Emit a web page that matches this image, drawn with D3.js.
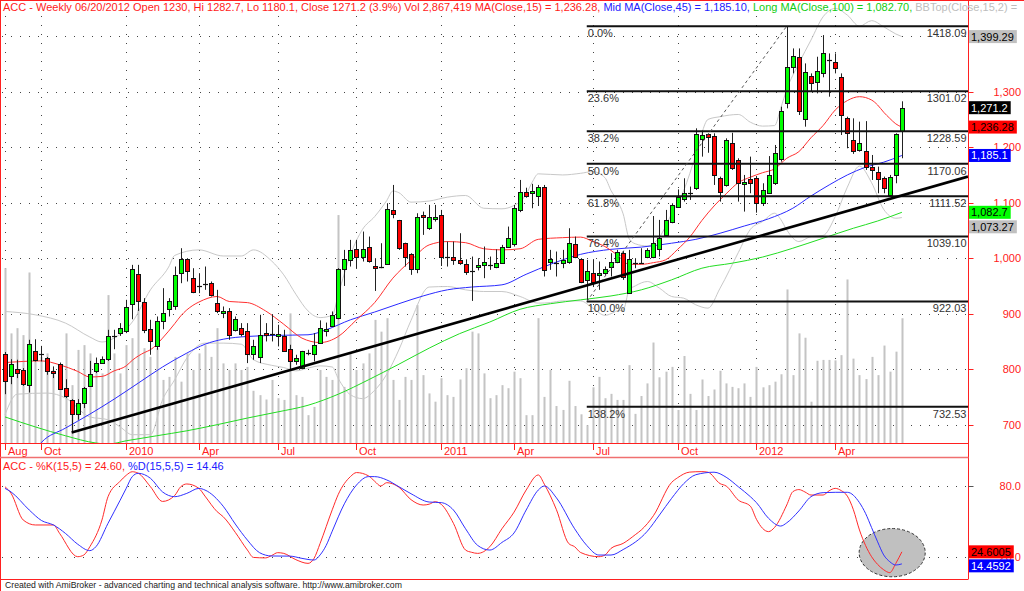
<!DOCTYPE html>
<html><head><meta charset="utf-8">
<script src="https://cdn.jsdelivr.net/npm/d3@7"></script>
<style>
html,body{margin:0;padding:0;background:#fff;}
svg{display:block;font-family:"Liberation Sans",Arial,sans-serif;}
</style></head><body>
<svg id="c" width="1024" height="591"></svg>
<script>
// ---------------- DATA ----------------
const symbol = "ACC";
const lastDate = "06/20/2012";
const tickIdx = [0,6,20,32,45,58,72,84,97,111,124,137];
const tickLabels = ["Aug","Oct","2010","Apr","Jul","Oct","2011","Apr","Jul","Oct","2012","Apr"];

const open = [827,787,800,799,771,832,827,821,796,809,767,745,720,740,770,796,812,818,858,865,
869,918,971,921,872,841,886,908,914,973,998,964,950,953,956,920,902,904,871,874,
869,827,822,865,864,860,859,836,815,802,829,827,848,868,877,892,980,997,1016,1003,
1020,986,984,989,1086,1069,1027,1007,980,1078,1054,1070,1078,1003,1003,997,989,976,985,988,
987,985,992,1021,1026,1087,1120,1118,1112,1129,993,991,991,994,1025,998,961,973,969,973,
984,994,1009,937,991,992,1003,1003,1016,1042,1066,1093,1106,1118,1126,1214,1224,1220,1144,1131,
1208,1177,1133,1142,1144,1099,1118,1135,1178,1279,1344,1362,1250,1328,1318,1334,1358,1354,1327,1252,
1213,1195,1193,1165,1156,1144,1114,1150,1230];
const high = [831,818,817,802,853,854,842,822,805,812,782,746,746,768,815,821,823,871,871,883,
925,988,988,928,889,895,946,928,985,1018,1000,982,973,985,958,943,913,910,895,883,
883,853,898,883,898,880,871,844,826,833,835,865,888,884,904,982,1015,1033,1033,1048,
1039,1000,1027,1099,1132,1069,1028,1009,1081,1084,1096,1096,1087,1030,1030,1045,998,1003,1000,1021,
1003,1016,1024,1057,1096,1141,1127,1134,1132,1132,1015,1012,1015,1054,1039,1000,997,997,994,985,
1009,1015,1013,1015,1000,1018,1018,1076,1069,1087,1099,1124,1144,1129,1234,1230,1225,1225,1147,1216,
1226,1180,1150,1183,1148,1135,1184,1204,1273,1418.09,1378,1378,1351,1333,1363,1402,1369,1369,1333,1255,
1252,1246,1247,1186,1165,1147,1150,1225,1282.7];
const low = [755,773,784,770,758,814,814,790,784,763,748,686,709,730,768,793,811,815,836,860,
865,890,905,865,826,835,872,895,907,955,958,937,937,943,931,901,892,853,868,859,
811,817,811,850,850,841,832,799,808,800,825,814,847,859,877,890,950,985,982,994,
992,941,982,988,1072,1015,985,970,973,1042,1051,1066,986,985,988,988,970,923,978,964,
979,982,990,1020,1021,1083,1109,1090,1094,967,979,967,982,990,1000,955,922.03,948,943,970,
967,991,961,937,982,991,1000,1000,1003,1040,1063,1092,1102,1105,1123,1183,1190,1132,1102,1129,
1159,1102,1084,1117,1082,1094,1116,1132,1174,1270,1333,1258,1237,1300,1297,1326,1291,1333,1222,1198,
1188,1192,1159,1141,1117,1117,1112,1135,1180.1];
const close = [778,809,793,773,845,817,826,796,793,764,752,720,740,766,791,812,818,860,860,874,
912,980,923,871,850,887,902,923,970,998,977,940,949,952,934,904,905,862,891,864,
827,841,862,862,863,864,833,814,821,833,830,844,874,872,898,981,998,1015,1003,1017,
995,983,985,1088,1080,1018,1002,980,1074,1074,1074,1075,1002,1002,996,992,975,977,987,994,
988,992,1020,1037,1090,1120,1112,1121,1128,978,999,990,997,1028,1003,958,977,957,974,980,
994,1011,966,998,992,991,1015,1028,1036,1069,1096,1110,1118,1118,1224,1222,1218,1150,1120,1213,
1162,1135,1138,1135,1099,1123,1150,1190,1266,1344,1364,1266,1336,1316,1338,1370,1357,1342,1258,1225,
1194,1207,1165,1159,1142,1126,1147,1223.5,1271.2];
// volume in millions of shares
const volume = [4.02,2.52,2.64,2.48,3.92,1.98,1.98,2.06,1.68,1.60,2.52,1.33,2.14,2.25,2.06,1.68,1.60,3.40,2.06,1.60,
2.25,2.41,3.06,2.18,1.98,2.18,1.45,1.52,1.98,1.41,2.06,1.68,2.06,2.25,1.98,2.64,1.83,1.68,1.83,1.68,
1.75,1.20,1.10,1.00,1.45,1.03,0.99,2.98,1.10,1.06,0.64,0.83,1.68,1.52,1.45,5.24,1.29,2.06,1.68,1.83,
2.06,2.83,2.56,2.87,1.45,0.99,1.52,1.45,3.17,1.56,1.14,0.95,1.49,1.10,1.06,1.46,1.72,2.56,2.52,1.60,
1.03,1.10,1.33,1.26,1.64,1.49,0.64,0.64,2.87,1.06,1.68,0.85,0.76,1.43,0.85,0.66,0.41,1.28,1.52,1.03,
1.13,0.99,0.99,1.79,0.67,1.08,1.37,2.31,1.51,1.64,1.75,0.76,2.00,1.13,0.76,1.46,1.08,1.23,1.66,1.37,
1.29,1.26,1.37,1.06,1.75,1.28,1.33,1.41,1.58,3.53,1.56,2.52,2.42,0.95,1.89,1.91,1.91,1.90,2.02,3.76,
1.94,1.56,1.47,1.98,1.56,2.24,1.64,2.10,2.867419];

// indicator readings: [bar index, value]
const ma15 = [[0,812],[3,814],[6,815],[9,808],[12,796],[14,786],[16,787],[18,797],[20,806],[21,816],[23,830],[24,835],[26,856],[28,882],[29,896],[31,915],[32,921],[35,931],[37,922],[40,920],[43,905],[46,881],[49,856],[52,848],[55,859],[58,889],[61,920],[64,964],[67,996],[70,1024],[73,1030],[76,1028],[79,1017],[82,1015],[85,1017],[88,1034],[92,1037],[95,1038],[97,1030],[99,1021],[101,1006],[103,989],[105,989],[107,992],[109,997],[111,1016],[113,1038],[115,1068],[117,1094],[119,1116],[121,1136],[123,1146],[125,1154],[127,1161],[129,1180],[131,1192],[133,1217],[135,1239],[137,1267],[139,1284],[141,1291],[143,1285],[144,1276],[145,1263],[146,1252],[147,1242],[148,1236.28]];
const ma45 = [[5,655],[6,668],[10,694],[14,719],[18,746],[22,775],[26,804],[30,829],[33,845],[36,854],[40,859],[45,861],[50,862],[53,871],[57,889],[61,903],[65,918],[69,932],[73,943],[77,948],[82,952],[86,971],[90,989],[95,1007],[100,1016],[105,1020],[110,1027],[114,1034],[118,1045],[122,1058],[126,1071],[130,1090],[133,1112],[136,1132],[139,1150],[142,1164],[145,1173],[148,1185.10]];
const ma100 = [[0,714],[5,696],[10,680],[15,667],[17,665],[20,671],[25,680],[30,689],[35,700],[40,712],[45,723],[50,735],[55,755],[60,781],[65,809],[70,838],[75,864],[80,885],[85,908],[90,918],[95,925],[100,932],[105,943],[110,961],[115,982],[120,991],[125,1002],[130,1018],[135,1036],[140,1054],[144,1067],[148,1082.70]];
const bbTop = [[0,904],[5,898],[10,883],[14,858],[16,849],[18,856],[21,885],[24,943],[27,984],[28,1005],[32,1015],[36,1004],[39,1004],[41,1015],[44,995],[46,970],[48,935],[50,905],[52,893],[54,897],[55,935],[57,1006],[59,1052],[61,1075],[63,1104],[64,1121],[65,1118],[67,1101],[70,1103],[73,1110],[76,1113],[79,1090],[82,1089],[84,1095],[85,1102],[86,1115],[87,1137],[88,1152],[92,1150],[95,1153],[97,1156],[99,1145],[100,1122],[101,1104],[102,1080],[103,1035],[104,1026],[106,1022],[108,1038],[110,1080],[112,1122],[114,1186],[116,1250],[118,1255],[121,1259],[123,1245],[125,1238],[127,1239],[128,1270],[129,1304],[131,1351],[133,1393],[135,1435],[137,1450],[139,1438],[141,1418],[143,1428],[145,1417],[147,1404],[148,1399.29]];
const bbBot = [[0,718],[2,755],[7,757],[10,748],[14,714],[17,709],[19,696],[21,682],[24,682],[26,745],[28,781],[30,820],[33,847],[36,847],[39,845],[41,817],[44,807],[46,803],[48,797],[50,802],[52,806],[54,804],[55,783],[57,754],[59,747],[61,762],[63,791],[65,835],[67,888],[70,948],[73,949],[76,943],[79,940],[82,940],[85,931],[88,919],[90,920],[92,923],[95,923],[97,910],[99,897],[100,900],[101,905],[102,906],[103,943],[104,950],[106,958],[108,946],[110,931],[112,928],[114,916],[116,910],[118,946],[121,1010],[123,1052],[125,1066],[127,1081],[128,1070],[129,1051],[131,1030],[133,1039],[135,1041],[137,1075],[139,1128],[141,1166],[143,1136],[145,1088],[147,1072],[148,1073.27]];

const stochK = [[0,79.4],[1,73.8],[3,51.4],[5,47.2],[8,47.2],[9,40.2],[12,20.5],[13,21.9],[14,28.9],[16,51.4],[17,71.0],[19,84],[20,89],[21,92],[22,90.7],[24,79.4],[26,67],[28,72],[29,79.4],[30,81.7],[32,78],[33,71.5],[35,58.4],[36,54.2],[38,41],[40,26.1],[41,19.9],[43,19.5],[44,21.5],[45,23.9],[46,23.3],[48,18],[50,14.9],[51,19.1],[52,31.7],[54,60],[55,73],[57,87.9],[58,91.3],[60,88.5],[61,84],[62,80],[63,82.8],[65,79],[67,68.5],[69,64.0],[70,64.7],[71,66.8],[72,64.5],[74,48.6],[76,26.1],[77,24.2],[78,23.3],[80,28.9],[82,44],[84,58],[86,76.6],[88,89.3],[89,81.5],[91,60],[93,31.7],[94,28.9],[95,24],[98,20.5],[99,21.9],[100,27.5],[102,31.7],[104,39],[105,43.0],[107,55],[110,83],[111,87],[113,91.7],[115,92.1],[116,91.6],[118,82],[119,80],[121,68.2],[123,63],[124,52],[125,44.4],[126,41.6],[127,45.2],[129,64],[130,75.2],[131,77],[132,75],[133,72.4],[135,72.4],[136,76],[137,78],[138,76.1],[139,71.5],[140,60],[141,43],[142,30],[143,20.5],[144,14],[145,9.5],[146,7.1],[147,14.9],[148,24.6005]];
const stochD = [[0,78.0],[1,75],[4,59.8],[6,51],[8,47.2],[10,40],[12,31],[14,25.6],[15,28.9],[17,48.6],[19,68],[20,78],[21,87.9],[22,90.7],[24,86.5],[26,75],[28,71.0],[30,73.8],[32,78.0],[33,76.6],[36,63],[38,48],[40,34.5],[42,23.9],[44,21.1],[47,21],[49,19.1],[51,17.7],[52,22],[53,30],[54,42],[56,65],[58,80.8],[60,87.9],[61,87.9],[63,85.1],[65,79.4],[67,73.5],[70,66.5],[72,66.0],[74,59.8],[76,44],[78,30],[80,26.1],[82,32.5],[84,40.5],[86,59.8],[88,76.6],[89,80.0],[91,70],[94,44],[96,30],[98,21.9],[100,21.9],[102,26.5],[106,42],[108,55.6],[110,69.6],[112,82],[114,89.5],[117,91.6],[119,87.4],[121,79.4],[123,71],[124,66],[126,52.8],[128,46.3],[129,49],[131,59],[133,71],[135,74.4],[137,74.7],[139,74.7],[141,66],[142,57],[143,45],[144,33],[145,22],[146,16.3],[147,13.5],[148,14.4592]];

const priceGrid = [700,800,900,1000,1100,1200,1300,1400];
const priceLabels = [700,800,900,1000,1100,1200,1300];
const stochTicks = [20,80];
const fibPct = ["0.0%","23.6%","38.2%","50.0%","61.8%","76.4%","100.0%","138.2%"];
const fibVal = [1418.09,1301.02,1228.59,1170.06,1111.52,1039.10,922.03,732.53];
const fibStart = 96;                       // bar where the retracement starts
const swingLine = [[96,922.03],[129,1418.09]];
const trendLine = [[11,686],[158.9,1147]];
const highlight = {i:146.4, v:23.9, di:5.45, dv:20.3}; // ellipse on stochastic

// ---------------- LAYOUT ----------------
const PR = 968.5, MB = 443, AXB = 457.5, SB = 579;
const svg = d3.select("#c");
const x = d3.scaleLinear().domain([0,148]).range([5, 901.88]);
const y = d3.scaleLinear().domain([700,1300]).range([424.7, 91.7]);
const vy = d3.scaleLinear().domain([0,1]).range([MB, MB-43.5]);
const sy = d3.scaleLinear().domain([20,80]).range([557.3, 486]);
const cx = i => Math.round(x(i));

const defs = svg.append("defs");
defs.append("clipPath").attr("id","cm").append("rect").attr("x",1).attr("y",1).attr("width",PR-1.5).attr("height",MB-1);
defs.append("clipPath").attr("id","cs").append("rect").attr("x",1).attr("y",AXB+0.5).attr("width",PR-1.5).attr("height",SB-AXB-1);

svg.append("rect").attr("width",1024).attr("height",591).attr("fill","#fff");

// ---------- main pane ----------
const gm = svg.append("g").attr("clip-path","url(#cm)");
gm.selectAll("line.hg").data(priceGrid).join("line").attr("class","hg")
  .attr("x1",2).attr("x2",PR).attr("y1",d=>Math.round(y(d))+0.5).attr("y2",d=>Math.round(y(d))+0.5)
  .attr("stroke","#444").attr("stroke-width",1).attr("stroke-dasharray","1,8");
gm.selectAll("line.vg").data(tickIdx).join("line").attr("class","vg")
  .attr("x1",d=>cx(d)+0.5).attr("x2",d=>cx(d)+0.5).attr("y1",16).attr("y2",MB)
  .attr("stroke","#444").attr("stroke-width",1).attr("stroke-dasharray","1,8");

// volume
gm.selectAll("rect.vol").data(volume).join("rect").attr("class","vol")
  .attr("x",(d,i)=>cx(i)-0.5).attr("width",2).attr("y",d=>vy(d)).attr("height",d=>MB-vy(d))
  .attr("fill","#c4c4c4");

const ln = d3.line().x(d=>x(d[0])).y(d=>y(d[1])).curve(d3.curveMonotoneX);
[[bbTop,"#c8c8c8"],[bbBot,"#c8c8c8"],[ma100,"#22dd22"],[ma45,"#2a2aff"],[ma15,"#ff3030"]].forEach(([d,c])=>{
  gm.append("path").datum(d).attr("d",ln).attr("fill","none").attr("stroke",c).attr("stroke-width",1);
});

// candles
const idx = d3.range(close.length);
gm.selectAll("line.wick").data(idx).join("line").attr("class","wick")
  .attr("x1",i=>cx(i)+0.5).attr("x2",i=>cx(i)+0.5)
  .attr("y1",i=>y(high[i])).attr("y2",i=>y(low[i]))
  .attr("stroke","#222").attr("stroke-width",1);
idx.forEach(i=>{
  const yo=y(open[i]), yc=y(close[i]);
  const top=Math.round(Math.min(yo,yc)), bot=Math.round(Math.max(yo,yc));
  if (bot-top < 1.5) {
    gm.append("line").attr("x1",cx(i)-2).attr("x2",cx(i)+3).attr("y1",top+0.5).attr("y2",top+0.5)
      .attr("stroke","#111").attr("stroke-width",1.2);
  } else {
    gm.append("rect").attr("x",cx(i)-1.5).attr("y",top+0.5).attr("width",4).attr("height",bot-top)
      .attr("fill",close[i]>=open[i]?"#00ff00":"#ff0000").attr("stroke","#111").attr("stroke-width",1);
  }
});

// fibonacci levels
const fx1 = x(fibStart);
gm.selectAll("line.fib").data(fibVal).join("line").attr("class","fib")
  .attr("x1",fx1).attr("x2",PR).attr("y1",d=>y(d)).attr("y2",d=>y(d))
  .attr("stroke","#111").attr("stroke-width",2);
gm.selectAll("text.fp").data(fibPct).join("text").attr("class","fp")
  .attr("x",fx1+1).attr("y",(d,i)=>y(fibVal[i])+11).text(d=>d)
  .attr("font-size",11).attr("fill","#333");
gm.selectAll("text.fv").data(fibVal).join("text").attr("class","fv")
  .attr("x",PR-2).attr("y",d=>y(d)+11).attr("text-anchor","end").text(d=>d.toFixed(2))
  .attr("font-size",11).attr("fill","#333");

// swing (dashed) and trend line
const lnL = d3.line().x(d=>x(d[0])).y(d=>y(d[1]));
gm.append("path").datum(swingLine).attr("d",lnL).attr("stroke","#555").attr("stroke-width",1).attr("stroke-dasharray","3,3").attr("fill","none");
gm.append("path").datum(trendLine).attr("d",lnL).attr("stroke","#000").attr("stroke-width",2.6).attr("fill","none");

// ---------- frame ----------
const red="#ff2020";
svg.append("line").attr("x1",0).attr("x2",1024).attr("y1",0.5).attr("y2",0.5).attr("stroke",red);
svg.append("line").attr("x1",0.5).attr("x2",0.5).attr("y1",0).attr("y2",591).attr("stroke",red);
svg.append("line").attr("x1",PR).attr("x2",PR).attr("y1",0).attr("y2",SB).attr("stroke",red);
svg.append("line").attr("x1",0).attr("x2",PR).attr("y1",MB+0.5).attr("y2",MB+0.5).attr("stroke",red);
svg.append("line").attr("x1",0).attr("x2",PR).attr("y1",AXB).attr("y2",AXB).attr("stroke","#f07070").attr("stroke-width",1.5);
svg.append("line").attr("x1",0).attr("x2",PR).attr("y1",SB+0.5).attr("y2",SB+0.5).attr("stroke",red);

// date axis
svg.selectAll("line.dt").data(tickIdx).join("line").attr("class","dt")
  .attr("x1",d=>cx(d)+0.5).attr("x2",d=>cx(d)+0.5).attr("y1",MB+1).attr("y2",MB+7).attr("stroke",red);
svg.selectAll("text.dl").data(tickLabels).join("text").attr("class","dl")
  .attr("x",(d,i)=>cx(tickIdx[i])+3).attr("y",MB+12).text(d=>d).attr("font-size",11).attr("fill",red);

// price axis
svg.selectAll("line.pt").data(priceGrid).join("line").attr("class","pt")
  .attr("x1",PR).attr("x2",PR+5).attr("y1",d=>Math.round(y(d))+0.5).attr("y2",d=>Math.round(y(d))+0.5).attr("stroke",red);
svg.selectAll("text.pl").data(priceLabels).join("text").attr("class","pl")
  .attr("x",1021).attr("y",d=>y(d)+4).attr("text-anchor","end").text(d=>d3.format(",")(d))
  .attr("font-size",11).attr("fill",red);

// value boxes
const trim = v => d3.format(",.2f")(v).replace(/0+$/,"").replace(/\.$/,"");
const last = a => a[a.length-1][1];
function boxes(list, scale, fmt, gap){
  const items = list.map(b=>Object.assign({cy:scale(b.v)},b)).sort((a,b)=>a.cy-b.cy);
  for (let k=1;k<items.length;k++) if (items[k].cy < items[k-1].cy+gap) items[k].cy = items[k-1].cy+gap;
  items.forEach(b=>{
    const g = svg.append("g");
    const r = g.append("rect").attr("x",969).attr("y",b.cy-6.5).attr("height",13).attr("fill",b.fill);
    const t = g.append("text").attr("x",971).attr("y",b.cy+4).text(fmt(b.v)).attr("font-size",11).attr("fill",b.tc);
    r.attr("width", t.node().getComputedTextLength()+5);
  });
}
boxes([
  {v:last(bbTop), fill:"#c0c0c0", tc:"#000"},
  {v:close[close.length-1], fill:"#000", tc:"#fff"},
  {v:last(ma15), fill:"#ff0000", tc:"#000"},
  {v:last(ma45), fill:"#0000ff", tc:"#fff"},
  {v:last(ma100), fill:"#00ff00", tc:"#000"},
  {v:last(bbBot), fill:"#c0c0c0", tc:"#000"}
], y, trim, 14.5);

// ---------- stochastic pane ----------
const gs = svg.append("g").attr("clip-path","url(#cs)");
gs.selectAll("line.sg").data(stochTicks).join("line").attr("class","sg")
  .attr("x1",2).attr("x2",PR).attr("y1",d=>Math.round(sy(d))+0.5).attr("y2",d=>Math.round(sy(d))+0.5)
  .attr("stroke","#444").attr("stroke-dasharray","1,8");
const ecx = x(highlight.i), ecy = sy(highlight.v);
gs.append("ellipse").attr("cx",ecx).attr("cy",ecy)
  .attr("rx",x(highlight.i+highlight.di)-ecx).attr("ry",ecy-sy(highlight.v+highlight.dv))
  .attr("fill","#c0c0c0").attr("stroke","#333").attr("stroke-dasharray","3,2").attr("stroke-width",1);
const sl = d3.line().x(d=>x(d[0])).y(d=>sy(d[1])).curve(d3.curveMonotoneX);
gs.append("path").datum(stochK).attr("d",sl).attr("fill","none").attr("stroke","#ff2a2a").attr("stroke-width",1);
gs.append("path").datum(stochD).attr("d",sl).attr("fill","none").attr("stroke","#3030ff").attr("stroke-width",1);

svg.selectAll("line.st").data(stochTicks).join("line").attr("class","st")
  .attr("x1",PR).attr("x2",PR+5).attr("y1",d=>Math.round(sy(d))+0.5).attr("y2",d=>Math.round(sy(d))+0.5).attr("stroke","#555");
svg.selectAll("text.sl").data(stochTicks).join("text").attr("class","sl")
  .attr("x",1021).attr("y",d=>sy(d)+4).attr("text-anchor","end").text(d=>d.toFixed(1))
  .attr("font-size",11).attr("fill",red);
boxes([
  {v:last(stochK), fill:"#ff0000", tc:"#000"},
  {v:last(stochD), fill:"#0000ff", tc:"#fff"}
], sy, v=>v.toFixed(4), 14);

// ---------- titles ----------
const n = close.length-1;
const chg = (close[n]/close[n-1]-1)*100;
const f2 = d3.format(",.2f");
const t1 = svg.append("text").attr("x",3).attr("y",10.5).attr("font-size",11);
t1.append("tspan").attr("fill","#ff1a1a").text(`${symbol} - Weekly ${lastDate} Open ${open[n]}, Hi ${high[n]}, Lo ${low[n]}, Close ${close[n]} (${chg.toFixed(1)}%) Vol ${d3.format(",")(Math.round(volume[n]*1e6))} MA(Close,15) = ${f2(last(ma15))}, `);
t1.append("tspan").attr("fill","#2020ff").text(`Mid MA(Close,45) = ${f2(last(ma45))}, `);
t1.append("tspan").attr("fill","#11cc11").text(`Long MA(Close,100) = ${f2(last(ma100))}, `);
t1.append("tspan").attr("fill","#bdbdbd").text(`BBTop(Close,15,2) =`);

const t2 = svg.append("text").attr("x",3).attr("y",AXB+12).attr("font-size",11);
t2.append("tspan").attr("fill","#ff1a1a").text(`${symbol} - %K(15,5) = ${last(stochK).toFixed(2)}, `);
t2.append("tspan").attr("fill","#2020ff").text(`%D(15,5,5) = ${last(stochD).toFixed(2)}`);

svg.append("text").attr("x",5).attr("y",588).attr("font-size",8.7).attr("fill","#222")
  .text("Created with AmiBroker - advanced charting and technical analysis software. http://www.amibroker.com");
</script></body></html>
